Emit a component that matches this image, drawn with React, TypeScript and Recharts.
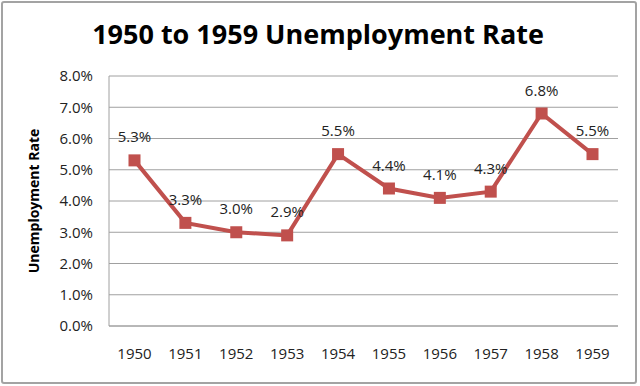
import { LineChart, Line, XAxis, YAxis, CartesianGrid, LabelList } from 'recharts';

const years = ['1950', '1951', '1952', '1953', '1954', '1955', '1956', '1957', '1958', '1959'];
const rates = [5.3, 3.3, 3.0, 2.9, 5.5, 4.4, 4.1, 4.3, 6.8, 5.5];
const yTicks = [0, 1, 2, 3, 4, 5, 6, 7, 8];

const data = years.map((year, i) => ({ year, rate: rates[i] }));

const FONT = '"Open Sans", sans-serif';
const RED = '#C0504D';
const GRID = '#a0a0a0';

const SquareDot = (props: any) => {
  const { cx, cy, index } = props;
  if (cx == null || cy == null) return null;
  return <rect key={`dot-${index}`} x={cx - 6} y={cy - 6} width={12} height={12} fill={RED} />;
};

export default function App() {
  return (
    <div style={{ position: 'fixed', left: 0, top: 0, width: 640, height: 386, background: '#fff', fontFamily: FONT }}>
      <div
        style={{
          position: 'absolute', left: 1, top: 1, width: 636, height: 383,
          border: '2px solid #a3a3a3', borderRadius: 3, boxSizing: 'border-box',
        }}
      />
      <div
        style={{
          position: 'absolute', left: 0, top: 14, width: 636, textAlign: 'center',
          fontSize: 27, fontWeight: 700, color: '#000', lineHeight: '40px',
        }}
      >
        1950 to 1959 Unemployment Rate
      </div>
      <div style={{ position: 'absolute', left: 0, top: 0 }}>
        <LineChart width={640} height={386} data={data} margin={{ top: 76, right: 22, bottom: 30, left: 0 }}>
          <CartesianGrid horizontal vertical={false} stroke={GRID} strokeWidth={1} />
          <XAxis
            dataKey="year"
            axisLine={{ stroke: GRID }}
            tickLine={false}
            tickSize={0}
            tickMargin={22}
            height={30}
            interval={0}
            padding={{ left: 25.5, right: 25.5 }}
            tick={{ fill: '#222', fontSize: 15, fontFamily: FONT }}
          />
          <YAxis
            domain={[0, 8]}
            ticks={yTicks}
            width={109}
            axisLine={{ stroke: GRID }}
            tickLine={false}
            tickSize={0}
            tickMargin={16}
            tickFormatter={(v: number) => `${v.toFixed(1)}%`}
            tick={{ fill: '#222', fontSize: 15, fontFamily: FONT }}
            label={{
              value: 'Unemployment Rate',
              angle: -90,
              position: 'insideLeft',
              offset: 0,
              dx: 34,
              style: { fontSize: 14, fontWeight: 700, fill: '#000', fontFamily: FONT, textAnchor: 'middle' },
            }}
          />
          <Line
            type="linear"
            dataKey="rate"
            stroke={RED}
            strokeWidth={4}
            dot={SquareDot}
            activeDot={false}
            isAnimationActive={false}
          >
            <LabelList
              dataKey="rate"
              position="top"
              offset={18}
              formatter={(v: any) => `${Number(v).toFixed(1)}%`}
              style={{ fill: '#222', fontSize: 15, fontFamily: FONT }}
            />
          </Line>
        </LineChart>
      </div>
    </div>
  );
}
